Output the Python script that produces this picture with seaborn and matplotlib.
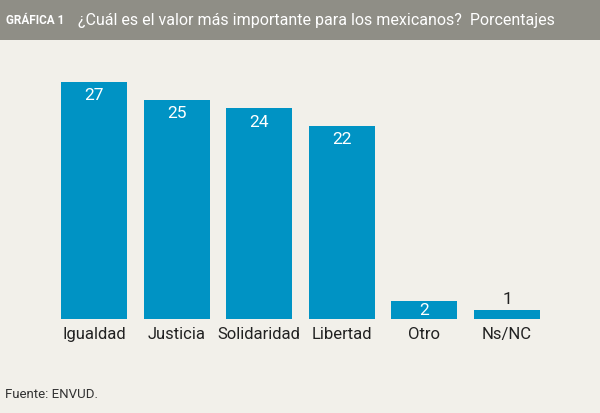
import matplotlib
matplotlib.use("Agg")
import matplotlib.pyplot as plt
import seaborn as sns
import pandas as pd
from matplotlib.patches import Rectangle

# Data
categories = ["Igualdad", "Justicia", "Solidaridad", "Libertad", "Otro", "Ns/NC"]
values = [27, 25, 24, 22, 2, 1]

df = pd.DataFrame({"valor": categories, "pct": values})

sns.set_theme(style="white")
plt.rcParams["font.family"] = ["Roboto", "DejaVu Sans"]

bg = "#f2f0ea"
bar_color = "#0093c4"
header_color = "#8f8e86"

fig = plt.figure(figsize=(6.0, 4.13), dpi=100, facecolor=bg)

# header band
fig.patches.append(Rectangle((0, 1 - 40 / 413), 1, 40 / 413, transform=fig.transFigure,
                             facecolor=header_color, edgecolor="none", zorder=0))
fig.text(6 / 600, 1 - 20 / 413, "GRÁFICA 1", color="white", fontsize=8.5,
         fontweight="bold", va="center", ha="left")
fig.text(78 / 600, 1 - 20 / 413, "¿Cuál es el valor más importante para los mexicanos?  Porcentajes",
         color="white", fontsize=11.5, va="center", ha="left")

ax = fig.add_axes([52.7 / 600, (413 - 319) / 413, 495.6 / 600, 263.4 / 413])
ax.set_facecolor(bg)
sns.barplot(data=df, x="valor", y="pct", color=bar_color, saturation=1,
            width=0.8, linewidth=0, ax=ax)
ax.set_xlim(-0.5, 5.5)
ax.set_ylim(0, 30)

for i, v in enumerate(values):
    if v >= 2:
        ax.text(i, v - 1.6 if v > 5 else v / 2, str(v), ha="center", va="center",
                color="white", fontsize=12.5)
    else:
        ax.text(i, v + 0.35, str(v), ha="center", va="bottom", color="#222222", fontsize=12.5)

ax.set_xlabel("")
ax.set_ylabel("")
ax.set_yticks([])
ax.tick_params(axis="x", length=0, pad=6, labelsize=12, labelcolor="#222222")
for s in ax.spines.values():
    s.set_visible(False)

fig.text(5 / 600, 1 - 395 / 413, "Fuente: ENVUD.", color="#333333", fontsize=9.5,
         va="center", ha="left")

fig.savefig("out.png", dpi=100, facecolor=bg)
